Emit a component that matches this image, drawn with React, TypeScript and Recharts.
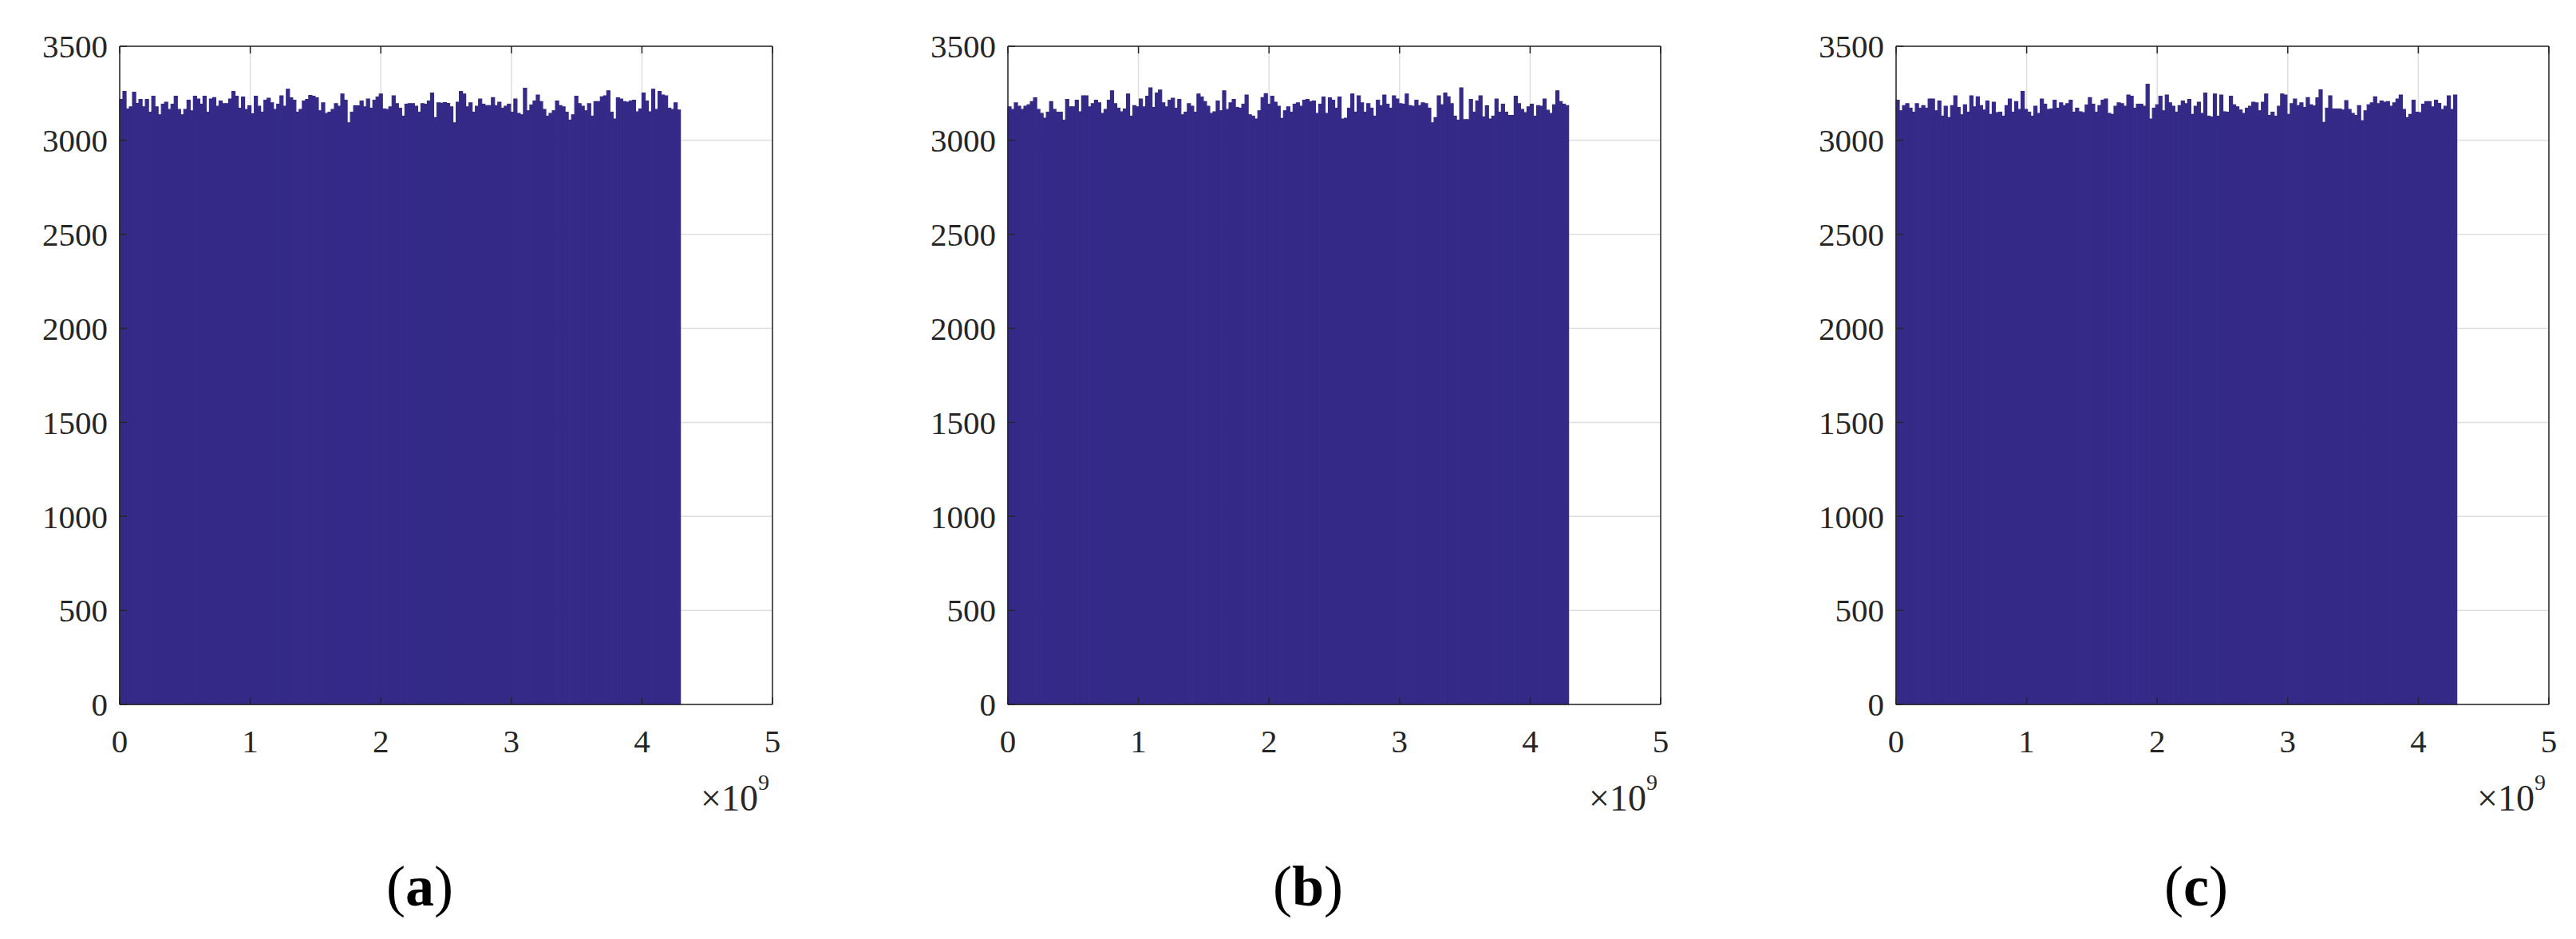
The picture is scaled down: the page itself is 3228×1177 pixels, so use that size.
import React from "react";
import { BarChart, Bar, XAxis, YAxis, CartesianGrid } from "recharts";

const xTicks = [0, 1e9, 2e9, 3e9, 4e9, 5e9];
const yTicks = [0, 500, 1000, 1500, 2000, 2500, 3000, 3500];
const captions = ["a", "b", "c"];

// bin counts, 175 bins over [0, 2^32)
const countsA = [
  3217, 3260, 3167, 3178, 3256, 3196, 3217, 3178, 3217, 3150,
  3234, 3178, 3136, 3192, 3203, 3164, 3192, 3234, 3164, 3136,
  3164, 3213, 3157, 3234, 3220, 3192, 3234, 3150, 3220, 3227,
  3181, 3209, 3195, 3195, 3220, 3260, 3234, 3171, 3230, 3164,
  3183, 3141, 3234, 3181, 3150, 3213, 3224, 3199, 3164, 3192,
  3237, 3181, 3272, 3226, 3213, 3150, 3164, 3209, 3217, 3239,
  3234, 3226, 3157, 3199, 3143, 3150, 3164, 3195, 3181, 3246,
  3213, 3093, 3150, 3183, 3183, 3209, 3178, 3220, 3171, 3213,
  3230, 3246, 3167, 3164, 3178, 3237, 3195, 3171,
  3128, 3192, 3195, 3195, 3181, 3150, 3195, 3192, 3209, 3251,
  3121, 3199, 3197, 3201, 3196, 3178, 3093, 3203, 3260, 3246,
  3178, 3199, 3150, 3181, 3220, 3192, 3185, 3185, 3227, 3185,
  3203, 3171, 3181, 3192, 3150, 3220, 3143, 3136, 3277, 3157,
  3188, 3209, 3241, 3206, 3164, 3128, 3143, 3157, 3209, 3185,
  3178, 3150, 3107, 3136, 3234, 3195, 3181, 3157, 3195, 3128,
  3206, 3206, 3231, 3237, 3263, 3150, 3114, 3226, 3220, 3206,
  3203, 3209, 3213, 3152, 3167, 3251, 3209, 3152, 3272, 3164,
  3260, 3241, 3237, 3171, 3164, 3199, 3161,
];

const countsB = [
  3178, 3164, 3199, 3181, 3164, 3181, 3189, 3206, 3226, 3164,
  3143, 3118, 3150, 3206, 3164, 3150, 3150, 3107, 3217, 3178,
  3178, 3213, 3152, 3237, 3237, 3178, 3195, 3213, 3199, 3143,
  3164, 3213, 3263, 3195, 3171, 3152, 3167, 3246, 3128, 3185,
  3178, 3220, 3178, 3234, 3279, 3175, 3251, 3267, 3199, 3178,
  3213, 3224, 3171, 3217, 3136, 3150, 3195, 3181, 3150, 3246,
  3230, 3206, 3181, 3143, 3152, 3209, 3157, 3263, 3164, 3199,
  3217, 3175, 3171, 3192, 3241, 3136, 3128, 3114, 3157, 3227,
  3248, 3192, 3234, 3203, 3181, 3117, 3157,
  3178, 3150, 3192, 3199, 3181, 3213, 3217, 3206, 3209, 3143,
  3192, 3230, 3143, 3226, 3213, 3171, 3230, 3114, 3118, 3171,
  3246, 3150, 3237, 3199, 3150, 3195, 3171, 3128, 3213, 3185,
  3241, 3192, 3171, 3237, 3220, 3195, 3192, 3246, 3185, 3181,
  3213, 3185, 3199, 3195, 3171, 3093, 3121, 3237, 3189, 3251,
  3231, 3195, 3128, 3107, 3279, 3110, 3110, 3217, 3150, 3209,
  3237, 3124, 3183, 3114, 3128, 3220, 3150, 3192, 3150, 3133,
  3133, 3234, 3195, 3164, 3147, 3178, 3192, 3128, 3185, 3181,
  3220, 3160, 3143, 3189, 3263, 3206, 3192, 3185,
];

const countsC = [
  3213, 3157, 3185, 3195, 3171, 3150, 3195, 3171, 3185, 3171,
  3220, 3220, 3157, 3209, 3128, 3181, 3121, 3185, 3237, 3175,
  3136, 3189, 3150, 3237, 3178, 3231, 3185, 3161, 3209, 3138,
  3203, 3147, 3150, 3128, 3185, 3220, 3150, 3206, 3164, 3260,
  3164, 3150, 3128, 3181, 3143, 3220, 3192, 3164, 3167, 3213,
  3171, 3199, 3185, 3195, 3213, 3150, 3171, 3152, 3147, 3188,
  3227, 3192, 3150, 3185, 3213, 3220, 3143, 3138, 3181, 3199,
  3195, 3181, 3241, 3234, 3171, 3192, 3192, 3181, 3298, 3114,
  3171, 3189, 3234, 3157, 3241, 3199, 3181,
  3150, 3185, 3209, 3195, 3217, 3138, 3181, 3203, 3143, 3251,
  3128, 3124, 3246, 3128, 3241, 3152, 3150, 3234, 3189, 3178,
  3161, 3143, 3171, 3181, 3203, 3199, 3157, 3203, 3246, 3133,
  3150, 3128, 3181, 3246, 3241, 3138, 3195, 3220, 3185, 3199,
  3175, 3227, 3189, 3182, 3226, 3268, 3096, 3171, 3237, 3167,
  3167, 3167, 3161, 3211, 3164, 3143, 3133, 3185, 3104, 3157,
  3189, 3199, 3231, 3195, 3209, 3203, 3206, 3181, 3199, 3220,
  3241, 3164, 3121, 3138, 3213, 3150, 3147, 3192, 3206, 3206,
  3178, 3213, 3196, 3164, 3181, 3237, 3164, 3241,
];

const BIN = 2 ** 32 / 175;
const INK = "#262626";
const BAR = "#352a87";
const FONT = "'Liberation Serif', 'Times New Roman', serif";

const toRows = (counts: number[]) =>
  counts.map((c, i) => ({ x: (i + 0.5) * BIN, count: c }));

// axes are 1px thick (recharts skips 0-size axes), ticks point inward
const BottomTick = (p: any) => (
  <g>
    <line x1={p.x} x2={p.x} y1={p.y} y2={p.y - 9} stroke={INK} strokeWidth={1.5} />
    <text x={p.x} y={p.y + 60} textAnchor="middle" fill={INK} fontSize={41} fontFamily={FONT}>
      {p.payload.value / 1e9}
    </text>
  </g>
);

const TopTick = (p: any) => (
  <line x1={p.x} x2={p.x} y1={p.y} y2={p.y + 9} stroke={INK} strokeWidth={1.5} />
);

const LeftTick = (p: any) => (
  <g>
    <line x1={p.x} x2={p.x + 9} y1={p.y} y2={p.y} stroke={INK} strokeWidth={1.5} />
    <text x={p.x - 15} y={p.y} dy="0.35em" textAnchor="end" fill={INK} fontSize={41} fontFamily={FONT}>
      {p.payload.value}
    </text>
  </g>
);

const RightTick = (p: any) => (
  <line x1={p.x} x2={p.x - 9} y1={p.y} y2={p.y} stroke={INK} strokeWidth={1.5} />
);

function Panel({ counts, label }: { counts: number[]; label: string }) {
  const data = toRows(counts);
  const axisLine = { stroke: INK, strokeWidth: 1.5 };
  return (
    <div style={{ position: "relative", width: 1113, height: 1177 }}>
      <BarChart
        width={1113}
        height={1177}
        data={data}
        margin={{ top: 57, right: 144, bottom: 293, left: 149 }}
        barCategoryGap={0}
        barGap={0}
      >
        <CartesianGrid stroke="#dedede" strokeWidth={1.5} />
        <XAxis dataKey="x" type="number" domain={[0, 5e9]} ticks={xTicks} interval={0}
          height={1} tickSize={0} tickMargin={0} tickLine={false} axisLine={axisLine} tick={BottomTick} />
        <XAxis xAxisId="top" orientation="top" dataKey="x" type="number" domain={[0, 5e9]} ticks={xTicks}
          interval={0} height={1} tickSize={0} tickMargin={0} tickLine={false} axisLine={axisLine} tick={TopTick} />
        <YAxis type="number" domain={[0, 3500]} ticks={yTicks} interval={0}
          width={1} tickSize={0} tickMargin={0} tickLine={false} axisLine={axisLine} tick={LeftTick} />
        <YAxis yAxisId="right" orientation="right" type="number" domain={[0, 3500]} ticks={yTicks}
          interval={0} width={1} tickSize={0} tickMargin={0} tickLine={false} axisLine={axisLine} tick={RightTick} />
        <Bar dataKey="count" fill={BAR} stroke={BAR} strokeWidth={1.2} isAnimationActive={false} />
      </BarChart>
      <svg width={1113} height={1177} style={{ position: "absolute", left: 0, top: 0, pointerEvents: "none" }}>
        <text x={964} y={1016} textAnchor="end" fill={INK} fontFamily={FONT} fontSize={46}>
          ×10<tspan dy={-26} fontSize={28}>9</tspan>
        </text>
        <text x={526} y={1135} textAnchor="middle" fill="#000" fontFamily={FONT} fontSize={72}>
          (<tspan fontWeight="bold">{label}</tspan>)
        </text>
      </svg>
    </div>
  );
}

export default function App() {
  const all = [countsA, countsB, countsC];
  return (
    <div style={{ position: "absolute", left: 0, top: 0, width: 3228, height: 1177, background: "#fff", display: "flex" }}>
      {all.map((c, i) => (
        <Panel key={captions[i]} counts={c} label={captions[i]} />
      ))}
    </div>
  );
}
